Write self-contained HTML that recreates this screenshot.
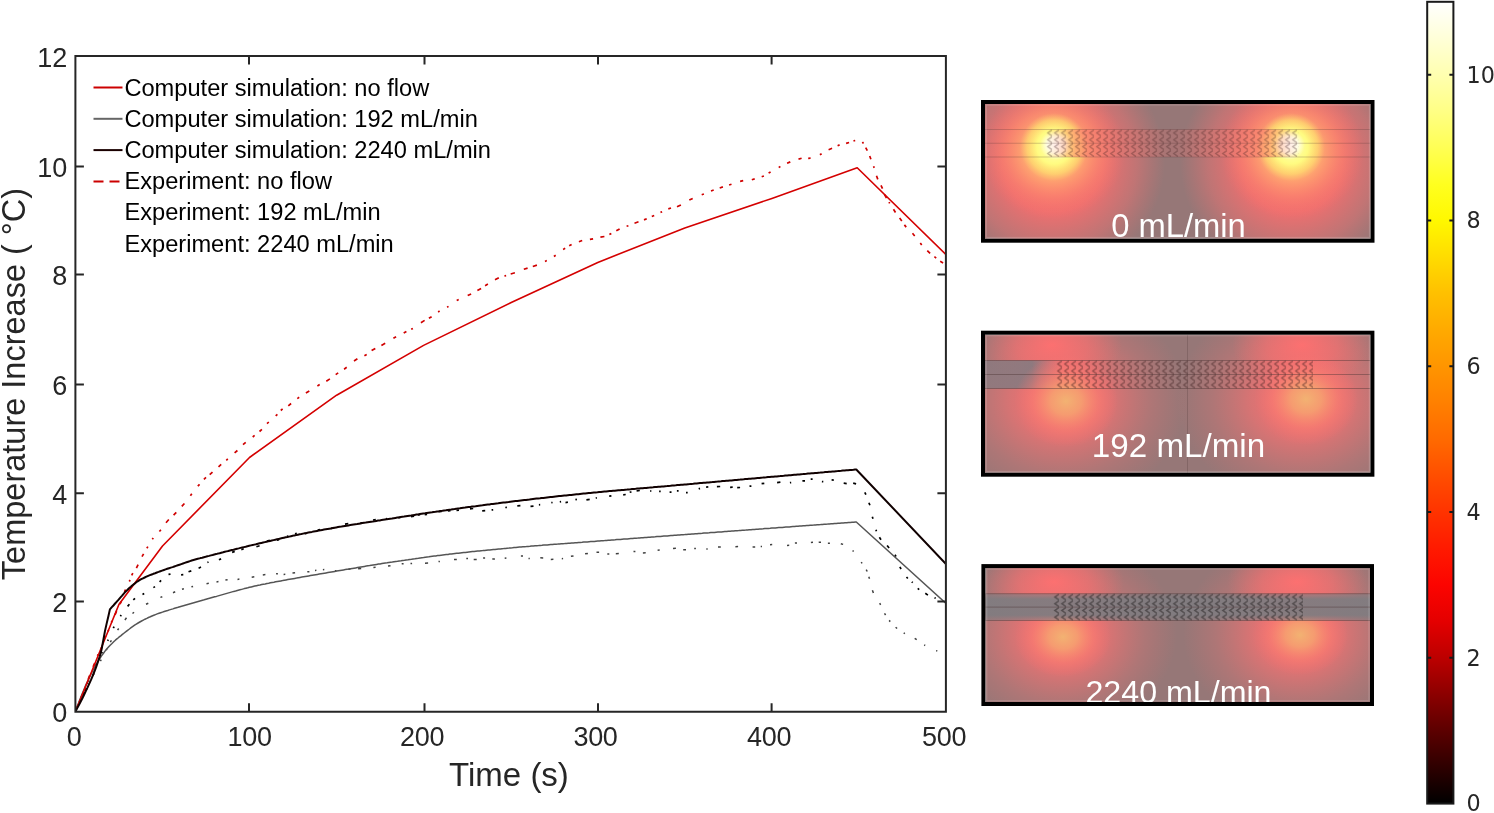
<!DOCTYPE html>
<html><head><meta charset="utf-8"><title>Temperature increase vs time</title>
<style>
html,body{margin:0;padding:0;background:#fff;}
body{width:1494px;height:813px;overflow:hidden;}
svg{display:block;}
text{font-family:'Liberation Sans', Arial, Helvetica, sans-serif;}
</style></head><body>
<svg width="1494" height="813" viewBox="0 0 1494 813">
<defs>
<linearGradient id="cbg" x1="0" y1="0" x2="0" y2="1"><stop offset="0.0000" stop-color="#ffffff"/><stop offset="0.0455" stop-color="#ffffd8"/><stop offset="0.0909" stop-color="#ffffb0"/><stop offset="0.1364" stop-color="#ffff85"/><stop offset="0.1818" stop-color="#ffff55"/><stop offset="0.2273" stop-color="#ffff20"/><stop offset="0.2727" stop-color="#fff800"/><stop offset="0.3182" stop-color="#ffdc00"/><stop offset="0.3636" stop-color="#ffc000"/><stop offset="0.4091" stop-color="#ffaa00"/><stop offset="0.4545" stop-color="#ff9500"/><stop offset="0.5000" stop-color="#ff8000"/><stop offset="0.5455" stop-color="#ff6a00"/><stop offset="0.5909" stop-color="#ff4e00"/><stop offset="0.6364" stop-color="#ff3300"/><stop offset="0.6818" stop-color="#ff1a00"/><stop offset="0.7273" stop-color="#fc0400"/><stop offset="0.7727" stop-color="#e40000"/><stop offset="0.8182" stop-color="#bc0000"/><stop offset="0.8636" stop-color="#8c0000"/><stop offset="0.9091" stop-color="#5c0000"/><stop offset="0.9545" stop-color="#2e0000"/><stop offset="1.0000" stop-color="#000000"/></linearGradient>
<clipPath id="plotclip"><rect x="76" y="56" width="869" height="655"/></clipPath>
<pattern id="mesh" x="0" y="0" width="7" height="7" patternUnits="userSpaceOnUse"><path d="M0.5,0.8 L3.8,3.5 L0.5,6.2 M4,0.8 L7.3,3.5 L4,6.2" fill="none" stroke="#3a2020" stroke-width="1" stroke-opacity="0.58"/></pattern><pattern id="mesh1" x="0" y="0" width="7" height="7" patternUnits="userSpaceOnUse"><path d="M0.5,0.8 L3.8,3.5 L0.5,6.2 M4,0.8 L7.3,3.5 L4,6.2" fill="none" stroke="#402020" stroke-width="1" stroke-opacity="0.42"/></pattern><pattern id="mesh3" x="0" y="0" width="7" height="7" patternUnits="userSpaceOnUse"><path d="M0.5,0.8 L3.8,3.5 L0.5,6.2 M4,0.8 L7.3,3.5 L4,6.2" fill="none" stroke="#282424" stroke-width="1.05" stroke-opacity="0.66"/></pattern><radialGradient id="pinkglow"><stop offset="0" stop-color="#ff7070" stop-opacity="1.0"/><stop offset="0.45" stop-color="#f67272" stop-opacity="0.82"/><stop offset="0.75" stop-color="#e87474" stop-opacity="0.38"/><stop offset="1" stop-color="#e07070" stop-opacity="0"/></radialGradient><radialGradient id="pinkglow2"><stop offset="0" stop-color="#ff7070" stop-opacity="0.95"/><stop offset="0.4" stop-color="#f47272" stop-opacity="0.72"/><stop offset="0.72" stop-color="#e67474" stop-opacity="0.3"/><stop offset="1" stop-color="#e07070" stop-opacity="0"/></radialGradient><radialGradient id="halo1"><stop offset="0" stop-color="#ff6c6c" stop-opacity="1"/><stop offset="0.45" stop-color="#f86e6e" stop-opacity="0.9"/><stop offset="0.75" stop-color="#ea7272" stop-opacity="0.5"/><stop offset="1" stop-color="#e07070" stop-opacity="0"/></radialGradient><radialGradient id="orange1"><stop offset="0" stop-color="#ffc472" stop-opacity="1"/><stop offset="0.4" stop-color="#ffb070" stop-opacity="0.88"/><stop offset="0.7" stop-color="#ff8c6e" stop-opacity="0.45"/><stop offset="1" stop-color="#ff706c" stop-opacity="0"/></radialGradient><radialGradient id="yellow1"><stop offset="0" stop-color="#ffffb8" stop-opacity="1"/><stop offset="0.5" stop-color="#ffff82" stop-opacity="0.95"/><stop offset="0.8" stop-color="#fff070" stop-opacity="0.5"/><stop offset="1" stop-color="#ffd070" stop-opacity="0"/></radialGradient><radialGradient id="white1"><stop offset="0" stop-color="#ffffff" stop-opacity="1"/><stop offset="0.55" stop-color="#fffff4" stop-opacity="0.85"/><stop offset="1" stop-color="#ffffe0" stop-opacity="0"/></radialGradient><radialGradient id="hotcore"><stop offset="0" stop-color="#ffffff" stop-opacity="1"/><stop offset="0.17" stop-color="#fffff0" stop-opacity="1"/><stop offset="0.33" stop-color="#ffff80" stop-opacity="1"/><stop offset="0.48" stop-color="#ffd868" stop-opacity="0.95"/><stop offset="0.64" stop-color="#ffa068" stop-opacity="0.75"/><stop offset="0.82" stop-color="#ff8070" stop-opacity="0.4"/><stop offset="1" stop-color="#ff7070" stop-opacity="0"/></radialGradient><radialGradient id="warmcore"><stop offset="0" stop-color="#f2b272" stop-opacity="1"/><stop offset="0.3" stop-color="#f6a070" stop-opacity="0.9"/><stop offset="0.65" stop-color="#ff7c70" stop-opacity="0.55"/><stop offset="1" stop-color="#ff7070" stop-opacity="0"/></radialGradient><radialGradient id="redglow"><stop offset="0" stop-color="#ff7070" stop-opacity="0.95"/><stop offset="0.5" stop-color="#f87070" stop-opacity="0.6"/><stop offset="1" stop-color="#f07070" stop-opacity="0"/></radialGradient><linearGradient id="cool2" x1="0" y1="0" x2="1" y2="0"><stop offset="0" stop-color="#847a80" stop-opacity="0.75"/><stop offset="0.6" stop-color="#847a80" stop-opacity="0.9"/><stop offset="1" stop-color="#847a80" stop-opacity="0"/></linearGradient><linearGradient id="cool3" x1="0" y1="0" x2="0" y2="1"><stop offset="0" stop-color="#807c80" stop-opacity="0.55"/><stop offset="0.2" stop-color="#807c80" stop-opacity="0.95"/><stop offset="0.8" stop-color="#807c80" stop-opacity="0.95"/><stop offset="1" stop-color="#807c80" stop-opacity="0.55"/></linearGradient><linearGradient id="cbar" x1="0" y1="0" x2="0" y2="1"><stop offset="0.0000" stop-color="#ffffff"/><stop offset="0.0455" stop-color="#ffffd8"/><stop offset="0.0909" stop-color="#ffffb0"/><stop offset="0.1364" stop-color="#ffff85"/><stop offset="0.1818" stop-color="#ffff55"/><stop offset="0.2273" stop-color="#ffff20"/><stop offset="0.2727" stop-color="#fff800"/><stop offset="0.3182" stop-color="#ffdc00"/><stop offset="0.3636" stop-color="#ffc000"/><stop offset="0.4091" stop-color="#ffaa00"/><stop offset="0.4545" stop-color="#ff9500"/><stop offset="0.5000" stop-color="#ff8000"/><stop offset="0.5455" stop-color="#ff6a00"/><stop offset="0.5909" stop-color="#ff4e00"/><stop offset="0.6364" stop-color="#ff3300"/><stop offset="0.6818" stop-color="#ff1a00"/><stop offset="0.7273" stop-color="#fc0400"/><stop offset="0.7727" stop-color="#e40000"/><stop offset="0.8182" stop-color="#bc0000"/><stop offset="0.8636" stop-color="#8c0000"/><stop offset="0.9091" stop-color="#5c0000"/><stop offset="0.9545" stop-color="#2e0000"/><stop offset="1.0000" stop-color="#000000"/></linearGradient><clipPath id="pc1"><rect x="985" y="104" width="385.5" height="134.7"/></clipPath><pattern id="msh1" x="1046" y="129.5" width="7" height="6.875" patternUnits="userSpaceOnUse"><path d="M5.4,0.9 L1.8,3.44 L5.4,5.97" fill="none" stroke="#3a1c1c" stroke-width="1.5" stroke-opacity="0.3" stroke-linecap="round"/></pattern><linearGradient id="bandwarm1" x1="0" y1="0" x2="1" y2="0"><stop offset="0" stop-color="#ff9070" stop-opacity="0"/><stop offset="0.12" stop-color="#ff8070" stop-opacity="0.55"/><stop offset="0.5" stop-color="#c87070" stop-opacity="0.35"/><stop offset="0.88" stop-color="#ff8070" stop-opacity="0.55"/><stop offset="1" stop-color="#ff9070" stop-opacity="0"/></linearGradient><clipPath id="pc2"><rect x="985" y="334.7" width="385.4" height="138.0"/></clipPath><pattern id="msh2" x="1056" y="360.5" width="7" height="7.000" patternUnits="userSpaceOnUse"><path d="M5.4,0.9 L1.8,3.50 L5.4,6.10" fill="none" stroke="#3a1c1c" stroke-width="1.5" stroke-opacity="0.42" stroke-linecap="round"/></pattern><clipPath id="pc3"><rect x="985.4" y="568.1" width="384.6" height="133.9"/></clipPath><pattern id="msh3" x="1053" y="593.7" width="7" height="6.700" patternUnits="userSpaceOnUse"><path d="M5.4,0.9 L1.8,3.35 L5.4,5.80" fill="none" stroke="#262222" stroke-width="1.5" stroke-opacity="0.5" stroke-linecap="round"/></pattern></defs>
<rect x="0" y="0" width="1494" height="813" fill="#ffffff"/>
<g clip-path="url(#plotclip)" fill="none" stroke-linejoin="round"><path d="M79.2,701.8L80.3,699.4M85.9,690.9L87.1,688.2M88.1,681.7L88.8,680.2M93.9,672.2L94.5,671.1M100.4,661.2L101.2,659.7M106.3,650.1L107.0,649.0M110.3,642.2L111.4,640.4M117.6,630.2L118.7,628.5M124.9,620.0L126.5,617.8M132.5,613.5L134.0,612.2M146.0,604.3L148.3,603.3M160.4,597.4L162.3,596.7M173.0,592.7L175.2,591.8M182.0,589.3L183.9,588.7M191.4,586.8L193.1,586.4M206.5,583.7L208.8,583.3M216.5,581.9L218.5,581.5M225.4,580.0L227.6,579.7M237.5,579.4L239.4,579.1M251.7,577.2L254.3,576.8M262.8,574.9L265.4,574.6M276.1,573.8L277.9,573.7M283.6,574.4L285.3,574.3M292.5,572.9L295.1,572.7M307.3,571.8L309.4,571.7M315.0,570.4L316.4,570.3M322.9,569.7L324.3,569.6M334.9,570.8L336.5,570.7M348.2,569.2L350.5,569.0M358.1,568.7L361.2,568.5M373.4,567.4L375.6,567.2M388.0,566.1L390.5,565.8M401.7,563.8L403.6,563.7M410.5,563.6L412.1,563.5M425.0,563.2L428.1,563.1M438.5,561.6L439.9,561.4M454.0,559.6L456.8,559.5M466.3,558.6L468.0,558.6M473.7,559.6L476.7,559.6M483.1,558.1L485.1,558.0M492.3,559.1L494.9,558.9M504.7,558.2L506.4,558.0M520.9,555.9L523.0,555.9M528.5,558.4L529.8,558.5M540.3,557.8L543.2,557.9M550.8,559.4L553.4,559.3M561.8,558.7L563.1,558.6M570.9,556.3L573.5,556.0M585.1,553.8L587.9,553.4M596.5,552.2L599.1,552.2M607.3,554.0L609.3,554.0M615.8,553.7L618.8,553.6M633.5,551.6L635.4,551.5M642.9,552.9L645.7,552.8M657.6,550.3L659.7,550.1M673.0,548.4L675.9,548.2M683.2,549.8L686.0,549.8M694.2,548.5L695.9,548.5M706.3,549.0L707.7,549.0M718.0,547.1L720.8,547.0M735.4,546.7L738.1,546.6M752.6,547.1L755.2,547.0M760.7,546.5L762.0,546.5M770.0,544.7L772.2,544.6M787.0,545.4L789.2,545.3M794.9,543.1L797.0,543.0M810.9,542.4L813.0,542.3M818.7,542.3L821.0,542.2M827.9,543.3L829.9,543.3M840.8,543.7L843.1,544.4M852.6,550.4L853.6,551.5M861.2,562.1L862.1,563.4M866.2,569.6L867.2,571.5M868.8,576.8L869.5,578.8M872.4,590.3L873.4,592.9M879.7,603.1L880.6,604.8M884.5,613.4L885.6,615.0M889.1,620.4L890.3,621.6M895.6,627.2L897.1,628.5M903.7,632.9L904.9,633.7M914.7,638.3L916.7,639.6M924.2,644.9L925.2,645.5M936.1,650.6L937.3,651.0" stroke="#404040" stroke-width="1.5"/><path d="M77.2,707.3L78.4,704.5M83.1,695.1L84.5,692.0M87.2,683.9L87.8,682.6M92.9,675.6L94.0,673.1M95.5,665.6L96.1,664.4M101.5,653.4L102.2,651.9M107.7,640.8L108.2,639.7M113.3,628.2L114.1,626.6M120.4,616.2L121.2,615.0M127.6,606.4L129.4,604.3M133.3,599.9L135.0,598.3M142.5,594.6L144.2,593.6M153.4,587.6L155.0,586.6M159.6,581.9L161.1,580.3M168.5,574.4L170.5,574.1M181.1,574.9L183.3,574.7M188.5,571.8L191.3,570.9M198.6,568.2L201.0,567.1M207.4,562.5L208.5,562.0M218.9,559.8L221.1,558.9M232.1,552.4L234.7,551.4M241.3,549.6L243.7,548.7M256.4,546.7L259.6,545.7M266.9,541.1L269.9,540.2M276.9,540.3L279.1,539.7M286.9,536.4L288.4,536.0M295.0,533.9L296.8,533.4M304.8,533.7L307.0,533.2M317.7,530.1L320.1,529.7M331.1,528.4L334.3,527.9M345.0,524.1L348.3,523.6M360.3,523.1L362.1,522.8M373.0,520.0L375.8,519.6M385.7,518.8L387.0,518.6M398.3,517.7L400.5,517.4M411.0,516.6L414.1,516.2M418.0,514.8L420.2,514.6M424.7,514.6L427.1,514.3M438.4,511.7L441.7,511.4M447.8,510.9L450.5,510.6M456.5,510.3L459.0,510.1M470.0,508.8L473.2,508.5M482.2,510.9L485.2,510.7M491.6,509.9L493.2,509.8M505.3,507.5L506.9,507.4M517.3,505.9L520.4,505.7M530.5,506.3L533.5,506.1M538.9,504.8L540.2,504.7M551.3,502.7L552.6,502.5M559.8,501.8L561.1,501.6M565.5,502.6L567.9,502.2M575.4,499.6L576.9,499.3M586.4,499.8L589.7,499.3M595.7,498.0L596.9,497.8M609.2,496.2L611.4,495.9M623.2,494.8L625.7,494.5M629.7,492.2L631.5,492.0M636.6,490.8L639.8,490.5M650.0,491.0L651.4,491.0M659.1,491.4L660.7,491.4M669.6,492.1L671.5,492.1M676.9,490.9L678.6,490.9M686.0,492.7L687.7,492.7M698.7,488.9L700.0,488.4M706.1,487.1L708.3,486.9M716.9,486.7L720.2,486.5M730.1,487.3L732.7,487.2M737.2,487.6L740.1,487.5M749.5,486.2L751.4,486.1M761.6,483.6L764.3,483.3M777.1,482.6L780.4,482.1M789.9,482.7L791.2,482.6M802.4,480.9L805.0,480.8M810.7,479.1L812.6,479.1M821.9,481.6L823.3,481.7M831.6,479.9L833.8,480.1M843.7,483.2L846.7,483.6M853.2,483.1L856.1,483.8M864.8,492.4L865.9,494.7M868.9,502.8L869.9,505.3M872.3,516.7L873.0,518.8M876.0,529.8L876.4,531.2M879.4,537.3L881.0,539.8M887.1,545.4L889.1,548.0M894.9,554.8L896.1,556.4M899.8,566.9L901.1,569.0M906.5,577.0L907.8,578.5M911.8,581.8L912.7,582.7M917.7,588.3L919.2,589.6M925.3,593.3L927.9,595.1M934.5,597.7L935.7,598.3" stroke="#000" stroke-width="1.7"/><path d="M77.4,706.5L78.0,705.1M81.3,697.2L82.3,694.7M84.7,690.7L85.8,687.9M88.2,679.0L89.6,675.6M93.1,666.9L94.7,663.1M97.5,655.7L98.1,654.2M101.2,648.7L101.9,646.9M104.6,638.3L105.6,635.9M108.0,631.4L108.7,629.8M111.4,622.4L112.0,620.9M115.0,614.9L116.6,611.2M120.0,604.1L121.3,601.3M124.5,591.8L125.5,589.5M129.3,581.5L130.1,580.0M131.7,575.4L132.8,573.1M136.4,568.1L138.1,564.6M142.0,556.7L143.6,553.9M146.8,548.3L147.9,546.6M152.3,539.3L153.3,537.9M159.4,531.5L160.9,529.7M166.0,522.8L168.8,519.5M173.6,515.2L176.3,512.4M181.8,506.4L184.4,503.5M190.4,495.7L191.8,493.7M197.8,486.1L199.6,484.3M203.9,479.4L206.0,477.4M209.7,474.7L212.5,472.1M218.5,466.9L221.2,464.4M226.3,460.3L227.8,458.9M234.6,452.9L237.4,450.5M243.0,444.6L245.7,442.3M252.7,437.0L254.6,435.4M259.5,431.5L261.9,429.4M267.0,423.7L268.8,422.0M275.7,415.9L277.4,414.3M280.8,410.5L282.6,408.9M288.3,405.8L291.1,403.5M297.3,398.6L299.2,397.3M305.9,393.0L309.3,391.0M317.4,385.9L319.7,384.5M326.3,381.2L329.9,378.9M335.7,374.6L338.2,372.9M344.1,369.2L346.7,367.3M354.0,361.0L357.4,358.8M364.4,355.8L366.7,354.5M371.6,350.6L375.3,348.4M381.4,345.4L385.2,343.3M393.4,338.2L396.1,336.7M403.7,333.0L406.4,331.5M411.2,329.3L412.9,328.4M420.9,322.7L424.6,320.4M428.9,318.3L431.6,316.7M438.1,311.9L439.6,311.0M447.1,307.3L448.5,306.4M456.7,300.6L458.7,299.6M467.7,295.6L471.1,293.9M477.4,290.4L481.1,288.4M485.1,285.7L487.9,284.0M495.0,279.8L498.8,277.7M504.5,276.1L506.1,275.5M510.7,274.0L514.9,272.8M523.8,269.3L527.6,268.1M532.8,266.5L536.9,265.1M545.0,261.5L546.8,260.6M553.9,256.5L555.7,255.2M563.1,249.4L565.2,248.3M569.2,245.8L571.6,244.5M578.9,241.8L582.2,240.5M589.9,239.3L593.1,238.8M600.4,237.1L604.4,236.5M609.4,234.6L611.3,233.5M616.3,230.7L619.6,228.9M626.6,226.3L628.4,225.7M634.5,223.2L638.5,221.8M644.0,219.9L646.7,218.7M651.8,216.6L654.2,215.5M660.5,212.4L662.1,211.7M668.3,208.9L671.0,208.0M677.0,206.8L680.9,204.9M689.3,200.0L692.7,198.4M701.7,194.8L703.9,194.0M711.0,191.0L713.7,190.0M719.7,188.0L722.9,186.9M729.1,185.0L731.5,184.2M740.1,181.4L743.2,180.7M751.8,179.7L754.7,178.9M761.7,176.8L763.9,176.0M768.6,173.0L770.6,171.9M778.7,167.4L780.4,166.6M787.1,163.3L790.3,161.9M798.5,159.1L801.6,158.3M808.2,158.3L810.6,158.2M819.9,154.8L821.6,153.7M828.6,149.7L832.1,148.3M837.6,145.7L839.6,144.9M846.1,143.4L849.1,142.5M853.5,140.9L855.2,140.5M862.4,141.9L863.5,143.4M865.7,147.6L867.3,150.6M869.7,156.0L870.9,159.3M873.6,166.2L874.2,167.9M876.5,175.8L877.8,179.4M881.0,185.3L882.5,188.6M884.4,194.4L886.5,198.1M889.0,202.1L889.7,203.4M893.5,209.3L895.5,212.5M899.6,218.1L901.8,221.0M904.4,224.9L906.2,227.1M912.5,233.3L914.7,236.0M920.3,243.0L921.7,244.9M927.3,250.6L930.1,253.4M934.4,256.7L936.2,258.1M940.2,261.3L943.1,262.9" stroke="#d00000" stroke-width="1.7"/><path d="M75.4,711.6L77.1,706.8L78.9,702.2L80.6,697.7L82.4,693.3L84.1,689.2L85.8,685.1L87.6,681.3L89.3,677.6L91.1,674.0L92.8,670.6L94.6,667.4L96.3,664.3L98.0,661.4L99.8,658.6L101.5,655.9L103.3,653.5L105.0,651.1L106.7,649.0L108.5,647.0L110.2,645.2L112.0,643.5L113.7,641.8L115.4,640.2L117.2,638.7L118.9,637.2L120.7,635.8L122.4,634.4L124.2,633.0L125.9,631.7L127.6,630.3L129.4,629.0L131.1,627.7L132.9,626.4L134.6,625.2L136.3,624.1L138.1,623.0L139.8,622.0L141.6,621.0L143.3,620.1L145.0,619.2L146.8,618.4L148.5,617.5L150.3,616.8L152.0,616.0L153.8,615.3L155.5,614.6L157.2,613.9L159.0,613.3L160.7,612.7L162.5,612.1L164.2,611.5L165.9,611.0L167.7,610.5L169.4,609.9L171.2,609.4L172.9,608.9L174.6,608.3L176.4,607.8L178.1,607.3L179.9,606.7L181.6,606.2L183.4,605.7L185.1,605.2L186.8,604.7L188.6,604.2L190.3,603.7L192.1,603.2L193.8,602.7L195.5,602.2L197.3,601.7L199.0,601.2L200.8,600.7L202.5,600.2L204.2,599.8L206.0,599.3L207.7,598.8L209.5,598.3L211.2,597.8L213.0,597.3L214.7,596.8L216.4,596.4L218.2,595.9L219.9,595.4L221.7,594.9L223.4,594.4L225.1,593.9L226.9,593.4L228.6,592.9L230.4,592.4L232.1,591.9L233.8,591.4L235.6,591.0L237.3,590.5L239.1,590.0L240.8,589.6L242.6,589.1L244.3,588.6L246.0,588.2L247.8,587.8L249.5,587.3L251.3,586.9L253.0,586.5L254.7,586.1L256.5,585.7L258.2,585.3L260.0,585.0L261.7,584.6L263.4,584.2L265.2,583.9L266.9,583.5L268.7,583.2L270.4,582.8L272.2,582.5L273.9,582.2L275.6,581.8L277.4,581.5L279.1,581.2L280.9,580.9L282.6,580.6L284.3,580.2L286.1,579.9L287.8,579.6L289.6,579.3L291.3,579.0L293.1,578.7L294.8,578.4L296.5,578.1L298.3,577.7L300.0,577.4L301.8,577.1L303.5,576.8L305.2,576.5L307.0,576.2L308.7,575.9L310.5,575.6L312.2,575.3L313.9,575.0L315.7,574.7L317.4,574.4L319.2,574.1L320.9,573.8L322.7,573.5L324.4,573.2L326.1,572.9L327.9,572.6L329.6,572.3L331.4,572.0L333.1,571.7L334.8,571.4L336.6,571.1L338.3,570.8L340.1,570.5L341.8,570.2L343.5,569.9L345.3,569.6L347.0,569.3L348.8,569.1L350.5,568.8L352.3,568.5L354.0,568.2L355.7,567.9L357.5,567.6L359.2,567.3L361.0,567.0L362.7,566.7L364.4,566.4L366.2,566.1L367.9,565.8L369.7,565.6L371.4,565.3L373.1,565.0L374.9,564.7L376.6,564.4L378.4,564.1L380.1,563.9L381.9,563.6L383.6,563.3L385.3,563.0L387.1,562.8L388.8,562.5L390.6,562.2L392.3,562.0L394.0,561.7L395.8,561.4L397.5,561.2L399.3,560.9L401.0,560.7L402.7,560.4L404.5,560.2L406.2,559.9L408.0,559.7L409.7,559.4L411.5,559.2L413.2,558.9L414.9,558.7L416.7,558.4L418.4,558.2L420.2,557.9L421.9,557.7L423.6,557.5L425.4,557.2L427.1,557.0L428.9,556.8L430.6,556.5L432.3,556.3L434.1,556.1L435.8,555.9L437.6,555.6L439.3,555.4L441.1,555.2L442.8,555.0L444.5,554.8L446.3,554.6L448.0,554.4L449.8,554.1L451.5,553.9L453.2,553.7L455.0,553.5L456.7,553.3L458.5,553.2L460.2,553.0L461.9,552.8L463.7,552.6L465.4,552.4L467.2,552.2L468.9,552.0L470.7,551.8L472.4,551.6L474.1,551.5L475.9,551.3L477.6,551.1L479.4,550.9L481.1,550.7L482.8,550.6L484.6,550.4L486.3,550.2L488.1,550.0L489.8,549.9L491.5,549.7L493.3,549.5L495.0,549.4L496.8,549.2L498.5,549.0L500.3,548.9L502.0,548.7L503.7,548.6L505.5,548.4L507.2,548.2L509.0,548.1L510.7,547.9L512.4,547.8L514.2,547.6L515.9,547.5L517.7,547.3L519.4,547.1L521.1,547.0L522.9,546.8L524.6,546.7L526.4,546.6L528.1,546.4L529.9,546.3L531.6,546.1L533.3,546.0L535.1,545.8L536.8,545.7L538.6,545.6L540.3,545.4L542.0,545.3L543.8,545.1L545.5,545.0L547.3,544.9L549.0,544.7L550.7,544.6L552.5,544.5L554.2,544.3L556.0,544.2L557.7,544.1L559.5,543.9L561.2,543.8L562.9,543.7L564.7,543.6L566.4,543.4L568.2,543.3L569.9,543.2L571.6,543.0L573.4,542.9L575.1,542.8L576.9,542.7L578.6,542.5L580.3,542.4L582.1,542.3L583.8,542.1L585.6,542.0L587.3,541.9L589.1,541.7L590.8,541.6L592.5,541.5L594.3,541.4L596.0,541.2L597.8,541.1L599.5,541.0L601.2,540.8L603.0,540.7L604.7,540.6L606.5,540.4L608.2,540.3L609.9,540.2L611.7,540.0L613.4,539.9L615.2,539.8L616.9,539.6L618.7,539.5L620.4,539.4L622.1,539.2L623.9,539.1L625.6,539.0L627.4,538.9L629.1,538.7L630.8,538.6L632.6,538.5L634.3,538.3L636.1,538.2L637.8,538.1L639.5,537.9L641.3,537.8L643.0,537.7L644.8,537.5L646.5,537.4L648.3,537.3L650.0,537.2L651.7,537.0L653.5,536.9L655.2,536.8L657.0,536.6L658.7,536.5L660.4,536.4L662.2,536.2L663.9,536.1L665.7,536.0L667.4,535.9L669.1,535.7L670.9,535.6L672.6,535.5L674.4,535.3L676.1,535.2L677.9,535.1L679.6,535.0L681.3,534.8L683.1,534.7L684.8,534.6L686.6,534.4L688.3,534.3L690.0,534.2L691.8,534.0L693.5,533.9L695.3,533.8L697.0,533.7L698.7,533.5L700.5,533.4L702.2,533.3L704.0,533.1L705.7,533.0L707.5,532.9L709.2,532.8L710.9,532.6L712.7,532.5L714.4,532.4L716.2,532.2L717.9,532.1L719.6,532.0L721.4,531.9L723.1,531.7L724.9,531.6L726.6,531.5L728.4,531.3L730.1,531.2L731.8,531.1L733.6,531.0L735.3,530.8L737.1,530.7L738.8,530.6L740.5,530.4L742.3,530.3L744.0,530.2L745.8,530.1L747.5,529.9L749.2,529.8L751.0,529.7L752.7,529.5L754.5,529.4L756.2,529.3L758.0,529.2L759.7,529.0L761.4,528.9L763.2,528.8L764.9,528.6L766.7,528.5L768.4,528.4L770.1,528.3L771.9,528.1L773.6,528.0L775.4,527.9L777.1,527.7L778.8,527.6L780.6,527.5L782.3,527.4L784.1,527.2L785.8,527.1L787.6,527.0L789.3,526.9L791.0,526.7L792.8,526.6L794.5,526.5L796.3,526.3L798.0,526.2L799.7,526.1L801.5,526.0L803.2,525.8L805.0,525.7L806.7,525.6L808.4,525.5L810.2,525.3L811.9,525.2L813.7,525.1L815.4,524.9L817.2,524.8L818.9,524.7L820.6,524.6L822.4,524.4L824.1,524.3L825.9,524.2L827.6,524.1L829.3,523.9L831.1,523.8L832.8,523.7L834.6,523.5L836.3,523.4L838.0,523.3L839.8,523.2L841.5,523.0L843.3,522.9L845.0,522.8L846.8,522.7L848.5,522.5L850.2,522.4L852.0,522.3L853.7,522.2L855.5,522.0L856.3,522.0L946.0,603.4" stroke="#555555" stroke-width="1.5"/><path d="M75.4,711.6L118.9,604.5L162.5,546.0L249.5,457.5L336.6,395.2L423.6,345.4L510.7,302.8L597.8,262.4L684.8,227.9L771.9,198.4L857.2,167.8L946.0,254.7" stroke="#d40000" stroke-width="1.6"/><path d="M75.4,711.6L77.1,708.4L78.9,705.1L80.6,701.7L82.4,698.2L84.1,694.7L85.8,691.0L87.6,687.4L89.3,683.6L91.1,679.7L92.8,675.6L94.6,671.2L96.3,666.6L98.0,661.7L99.8,656.2L101.5,649.7L103.3,640.2L105.0,630.9L106.7,623.4L108.5,615.7L109.9,609.4L111.6,607.4L113.4,605.5L115.1,603.5L116.8,601.6L118.6,599.6L120.3,597.6L122.1,595.6L123.8,593.6L125.5,591.7L127.3,590.0L129.0,588.3L130.8,586.8L132.5,585.3L134.3,583.9L136.0,582.5L137.7,581.3L139.5,580.2L141.2,579.2L143.0,578.3L144.7,577.5L146.4,576.7L148.2,575.9L149.9,575.2L151.7,574.5L153.4,573.8L155.1,573.2L156.9,572.5L158.6,571.9L160.4,571.2L162.1,570.6L163.9,570.0L165.6,569.4L167.3,568.8L169.1,568.2L170.8,567.6L172.6,567.1L174.3,566.5L176.0,565.9L177.8,565.3L179.5,564.7L181.3,564.1L183.0,563.5L184.7,562.9L186.5,562.3L188.2,561.7L190.0,561.1L191.7,560.5L193.5,560.0L195.2,559.5L196.9,559.0L198.7,558.6L200.4,558.1L202.2,557.7L203.9,557.2L205.6,556.8L207.4,556.3L209.1,555.9L210.9,555.4L212.6,555.0L214.3,554.5L216.1,554.1L217.8,553.6L219.6,553.2L221.3,552.7L223.1,552.3L224.8,551.8L226.5,551.4L228.3,551.0L230.0,550.5L231.8,550.1L233.5,549.7L235.2,549.2L237.0,548.8L238.7,548.4L240.5,547.9L242.2,547.5L243.9,547.1L245.7,546.7L247.4,546.2L249.2,545.8L250.9,545.4L252.7,545.0L254.4,544.6L256.1,544.2L257.9,543.7L259.6,543.3L261.4,542.9L263.1,542.5L264.8,542.1L266.6,541.7L268.3,541.3L270.1,540.9L271.8,540.5L273.5,540.1L275.3,539.7L277.0,539.3L278.8,538.9L280.5,538.5L282.3,538.1L284.0,537.7L285.7,537.3L287.5,537.0L289.2,536.6L291.0,536.2L292.7,535.8L294.4,535.4L296.2,535.1L297.9,534.7L299.7,534.3L301.4,534.0L303.1,533.6L304.9,533.2L306.6,532.9L308.4,532.5L310.1,532.2L311.9,531.9L313.6,531.5L315.3,531.2L317.1,530.9L318.8,530.6L320.6,530.2L322.3,529.9L324.0,529.6L325.8,529.3L327.5,529.0L329.3,528.7L331.0,528.4L332.7,528.1L334.5,527.7L336.2,527.4L338.0,527.1L339.7,526.8L341.5,526.6L343.2,526.3L344.9,526.0L346.7,525.7L348.4,525.4L350.2,525.1L351.9,524.8L353.6,524.5L355.4,524.2L357.1,524.0L358.9,523.7L360.6,523.4L362.3,523.1L364.1,522.8L365.8,522.6L367.6,522.3L369.3,522.0L371.1,521.7L372.8,521.5L374.5,521.2L376.3,520.9L378.0,520.6L379.8,520.4L381.5,520.1L383.2,519.8L385.0,519.5L386.7,519.3L388.5,519.0L390.2,518.7L392.0,518.5L393.7,518.2L395.4,517.9L397.2,517.6L398.9,517.4L400.7,517.1L402.4,516.8L404.1,516.6L405.9,516.3L407.6,516.0L409.4,515.7L411.1,515.5L412.8,515.2L414.6,514.9L416.3,514.6L418.1,514.4L419.8,514.1L421.6,513.8L423.3,513.5L425.0,513.3L426.8,513.0L428.5,512.7L430.3,512.4L432.0,512.2L433.7,511.9L435.5,511.7L437.2,511.4L439.0,511.2L440.7,510.9L442.4,510.7L444.2,510.4L445.9,510.2L447.7,509.9L449.4,509.7L451.2,509.5L452.9,509.2L454.6,509.0L456.4,508.7L458.1,508.5L459.9,508.3L461.6,508.0L463.3,507.8L465.1,507.6L466.8,507.3L468.6,507.1L470.3,506.9L472.0,506.6L473.8,506.4L475.5,506.2L477.3,505.9L479.0,505.7L480.8,505.5L482.5,505.3L484.2,505.0L486.0,504.8L487.7,504.6L489.5,504.4L491.2,504.1L492.9,503.9L494.7,503.7L496.4,503.5L498.2,503.3L499.9,503.0L501.6,502.8L503.4,502.6L505.1,502.4L506.9,502.2L508.6,502.0L510.4,501.7L512.1,501.5L513.8,501.3L515.6,501.1L517.3,500.9L519.1,500.7L520.8,500.5L522.5,500.3L524.3,500.1L526.0,499.9L527.8,499.7L529.5,499.5L531.2,499.2L533.0,499.0L534.7,498.8L536.5,498.6L538.2,498.4L540.0,498.3L541.7,498.1L543.4,497.9L545.2,497.7L546.9,497.5L548.7,497.3L550.4,497.1L552.1,496.9L553.9,496.7L555.6,496.5L557.4,496.3L559.1,496.1L560.8,496.0L562.6,495.8L564.3,495.6L566.1,495.4L567.8,495.2L569.6,495.0L571.3,494.9L573.0,494.7L574.8,494.5L576.5,494.3L578.3,494.2L580.0,494.0L581.7,493.8L583.5,493.6L585.2,493.5L587.0,493.3L588.7,493.1L590.4,493.0L592.2,492.8L593.9,492.6L595.7,492.4L597.4,492.3L599.2,492.1L600.9,492.0L602.6,491.8L604.4,491.6L606.1,491.5L607.9,491.3L609.6,491.1L611.3,491.0L613.1,490.8L614.8,490.7L616.6,490.5L618.3,490.3L620.0,490.2L621.8,490.0L623.5,489.9L625.3,489.7L627.0,489.6L628.8,489.4L630.5,489.3L632.2,489.1L634.0,488.9L635.7,488.8L637.5,488.6L639.2,488.5L640.9,488.3L642.7,488.2L644.4,488.0L646.2,487.9L647.9,487.7L649.6,487.6L651.4,487.4L653.1,487.3L654.9,487.1L656.6,487.0L658.4,486.8L660.1,486.7L661.8,486.5L663.6,486.4L665.3,486.2L667.1,486.1L668.8,485.9L670.5,485.8L672.3,485.6L674.0,485.4L675.8,485.3L677.5,485.1L679.2,485.0L681.0,484.8L682.7,484.7L684.5,484.5L686.2,484.4L688.0,484.2L689.7,484.1L691.4,483.9L693.2,483.8L694.9,483.6L696.7,483.5L698.4,483.3L700.1,483.1L701.9,483.0L703.6,482.8L705.4,482.7L707.1,482.5L708.8,482.4L710.6,482.2L712.3,482.1L714.1,481.9L715.8,481.7L717.6,481.6L719.3,481.4L721.0,481.3L722.8,481.1L724.5,481.0L726.3,480.8L728.0,480.7L729.7,480.5L731.5,480.4L733.2,480.2L735.0,480.0L736.7,479.9L738.4,479.7L740.2,479.6L741.9,479.4L743.7,479.3L745.4,479.1L747.2,479.0L748.9,478.8L750.6,478.7L752.4,478.5L754.1,478.4L755.9,478.2L757.6,478.0L759.3,477.9L761.1,477.7L762.8,477.6L764.6,477.4L766.3,477.3L768.0,477.1L769.8,477.0L771.5,476.8L773.3,476.7L775.0,476.5L776.8,476.4L778.5,476.2L780.2,476.1L782.0,475.9L783.7,475.8L785.5,475.6L787.2,475.5L788.9,475.3L790.7,475.2L792.4,475.0L794.2,474.8L795.9,474.7L797.6,474.5L799.4,474.4L801.1,474.2L802.9,474.1L804.6,473.9L806.4,473.8L808.1,473.6L809.8,473.5L811.6,473.3L813.3,473.2L815.1,473.0L816.8,472.9L818.5,472.7L820.3,472.6L822.0,472.4L823.8,472.3L825.5,472.1L827.3,472.0L829.0,471.8L830.7,471.7L832.5,471.5L834.2,471.4L836.0,471.2L837.7,471.1L839.4,470.9L841.2,470.8L842.9,470.6L844.7,470.5L846.4,470.3L848.1,470.2L849.9,470.0L851.6,469.9L853.4,469.8L855.1,469.6L856.3,469.5L946.0,564.0" stroke="#100000" stroke-width="2"/></g><path d="M75.4,55.9H945.9V711.7H75.4Z" fill="none" stroke="#262626" stroke-width="2"/><path d="M249.0,711.7v-8.5M249.0,55.9v8.5M424.5,711.7v-8.5M424.5,55.9v8.5M598.0,711.7v-8.5M598.0,55.9v8.5M771.6,711.7v-8.5M771.6,55.9v8.5M75.4,601.5h8.5M945.9,601.5h-8.5M75.4,493.3h8.5M945.9,493.3h-8.5M75.4,384.6h8.5M945.9,384.6h-8.5M75.4,274.6h8.5M945.9,274.6h-8.5M75.4,166.4h8.5M945.9,166.4h-8.5" stroke="#262626" stroke-width="2" fill="none"/><g fill="#262626" font-size="27"><text x="67.3" y="722.3" text-anchor="end">0</text><text x="67.3" y="612.2" text-anchor="end">2</text><text x="67.3" y="504.0" text-anchor="end">4</text><text x="67.3" y="395.3" text-anchor="end">6</text><text x="67.3" y="285.3" text-anchor="end">8</text><text x="67.3" y="177.1" text-anchor="end">10</text><text x="67.3" y="66.5" text-anchor="end">12</text><text x="74.2" y="745.8" text-anchor="middle" letter-spacing="-0.3">0</text><text x="249.6" y="745.8" text-anchor="middle" letter-spacing="-0.3">100</text><text x="422.1" y="745.8" text-anchor="middle" letter-spacing="-0.3">200</text><text x="595.5" y="745.8" text-anchor="middle" letter-spacing="-0.3">300</text><text x="769.1" y="745.8" text-anchor="middle" letter-spacing="-0.3">400</text><text x="944.2" y="745.8" text-anchor="middle" letter-spacing="-0.3">500</text></g><text x="509" y="786" text-anchor="middle" font-size="33" fill="#262626">Time (s)</text><text transform="translate(24.5,384) rotate(-90)" text-anchor="middle" font-size="32.5" fill="#262626">Temperature Increase ( °C)</text><g font-size="23.65" fill="#000"><path d="M93.5,87.5H122.5" stroke="#cc0000" stroke-width="2"/><text x="124.4" y="95.5">Computer simulation: no flow</text><path d="M93.5,118.8H122.5" stroke="#666666" stroke-width="2"/><text x="124.4" y="126.7">Computer simulation: 192 mL/min</text><path d="M93.5,150.1H122.5" stroke="#1a0000" stroke-width="2"/><text x="124.4" y="157.9">Computer simulation: 2240 mL/min</text><path d="M93.5,181.4H122.5" stroke="#cc0000" stroke-width="2" stroke-dasharray="10 6"/><text x="124.4" y="189.1">Experiment: no flow</text><text x="124.4" y="220.3">Experiment: 192 mL/min</text><text x="124.4" y="251.5">Experiment: 2240 mL/min</text></g><g clip-path="url(#pc1)"><rect x="985" y="104" width="385.5" height="134.7" fill="#967777"/><ellipse cx="1053" cy="162" rx="112" ry="112" fill="url(#halo1)"/><ellipse cx="1292" cy="162" rx="112" ry="112" fill="url(#halo1)"/><ellipse cx="1053" cy="151" rx="72" ry="68" fill="url(#orange1)"/><ellipse cx="1292" cy="151" rx="72" ry="68" fill="url(#orange1)"/><ellipse cx="1054" cy="147" rx="34" ry="34" fill="url(#yellow1)"/><ellipse cx="1291" cy="147" rx="34" ry="34" fill="url(#yellow1)"/><ellipse cx="1056" cy="145" rx="16" ry="15" fill="url(#white1)"/><ellipse cx="1289" cy="145" rx="16" ry="15" fill="url(#white1)"/><rect x="1046" y="129.5" width="253" height="27.5" fill="url(#bandwarm1)"/><rect x="1046" y="129.5" width="253" height="27.5" fill="url(#msh1)"/><path d="M985,129.5H1370.5M985,143.25H1370.5M985,157H1370.5" stroke="#503838" stroke-width="1" stroke-opacity="0.26" fill="none"/><text x="1178.5" y="237.2" text-anchor="middle" font-size="32.75" fill="#ffffff">0 mL/min</text><rect x="986.3" y="105.0" width="383.2" height="132.5" fill="none" stroke="#ffffff" stroke-opacity="0.16" stroke-width="1.2"/></g><rect x="983" y="102" width="389.5" height="138.7" fill="none" stroke="#000" stroke-width="4"/><g clip-path="url(#pc2)"><rect x="985" y="334.7" width="385.4" height="138.0" fill="#967777"/><ellipse cx="1062" cy="400" rx="125" ry="105" fill="url(#pinkglow2)"/><ellipse cx="1302" cy="400" rx="125" ry="105" fill="url(#pinkglow2)"/><ellipse cx="1052" cy="345" rx="70" ry="42" fill="url(#redglow)"/><ellipse cx="1302" cy="345" rx="70" ry="42" fill="url(#redglow)"/><rect x="985" y="360.5" width="78" height="28" fill="url(#cool2)"/><ellipse cx="1066" cy="401" rx="52" ry="46" fill="url(#warmcore)"/><ellipse cx="1306" cy="399" rx="52" ry="46" fill="url(#warmcore)"/><rect x="1056" y="360.5" width="257" height="28.0" fill="url(#msh2)"/><path d="M985,360.5H1370.4M985,374.5H1370.4M985,388.5H1370.4" stroke="#503838" stroke-width="1" stroke-opacity="0.45" fill="none"/><path d="M1187.5,334.7V472.7" stroke="#604848" stroke-width="1" stroke-opacity="0.35"/><text x="1178.5" y="457.4" text-anchor="middle" font-size="33.2" fill="#ffffff">192 mL/min</text><rect x="986.3" y="335.7" width="383.1" height="135.8" fill="none" stroke="#ffffff" stroke-opacity="0.16" stroke-width="1.2"/></g><rect x="983" y="332.7" width="389.4" height="142.0" fill="none" stroke="#000" stroke-width="4"/><g clip-path="url(#pc3)"><rect x="985.4" y="568.1" width="384.6" height="133.9" fill="#967777"/><ellipse cx="1062" cy="634" rx="115" ry="98" fill="url(#pinkglow2)"/><ellipse cx="1298" cy="634" rx="115" ry="98" fill="url(#pinkglow2)"/><ellipse cx="1054" cy="582" rx="70" ry="40" fill="url(#redglow)"/><ellipse cx="1297" cy="582" rx="70" ry="40" fill="url(#redglow)"/><ellipse cx="1063" cy="637" rx="48" ry="40" fill="url(#warmcore)"/><ellipse cx="1300" cy="635" rx="48" ry="40" fill="url(#warmcore)"/><rect x="985" y="593.7" width="386" height="26.8" fill="url(#cool3)"/><rect x="1053" y="593.7" width="250" height="26.799999999999955" fill="url(#msh3)"/><path d="M985.4,593.7H1370M985.4,607.1H1370M985.4,620.5H1370" stroke="#503838" stroke-width="1" stroke-opacity="0.45" fill="none"/><text x="1178.5" y="702.5" text-anchor="middle" font-size="32.2" fill="#ffffff">2240 mL/min</text><rect x="986.6999999999999" y="569.1" width="382.3" height="131.7" fill="none" stroke="#ffffff" stroke-opacity="0.16" stroke-width="1.2"/></g><rect x="983.4" y="566.1" width="388.6" height="137.9" fill="none" stroke="#000" stroke-width="4"/><rect x="1427.2" y="1.8" width="26.2" height="801.8" fill="url(#cbar)"/><rect x="1427.2" y="1.8" width="26.2" height="801.8" fill="none" stroke="#1a1a1a" stroke-width="2"/><path d="M1427.2,657.8h4M1453.4,657.8h-4M1427.2,512.0h4M1453.4,512.0h-4M1427.2,366.3h4M1453.4,366.3h-4M1427.2,220.5h4M1453.4,220.5h-4M1427.2,74.7h4M1453.4,74.7h-4" stroke="#1a1a1a" stroke-width="2" fill="none"/><g font-family="'DejaVu Sans', 'Liberation Sans', sans-serif" font-size="22.3" fill="#262626"><text x="1466.6" y="811.4" style="font-family:'DejaVu Sans', 'Liberation Sans', sans-serif">0</text><text x="1466.6" y="665.6" style="font-family:'DejaVu Sans', 'Liberation Sans', sans-serif">2</text><text x="1466.6" y="519.8" style="font-family:'DejaVu Sans', 'Liberation Sans', sans-serif">4</text><text x="1466.6" y="374.1" style="font-family:'DejaVu Sans', 'Liberation Sans', sans-serif">6</text><text x="1466.6" y="228.3" style="font-family:'DejaVu Sans', 'Liberation Sans', sans-serif">8</text><text x="1466.6" y="82.5" style="font-family:'DejaVu Sans', 'Liberation Sans', sans-serif">10</text></g></svg></body></html>
